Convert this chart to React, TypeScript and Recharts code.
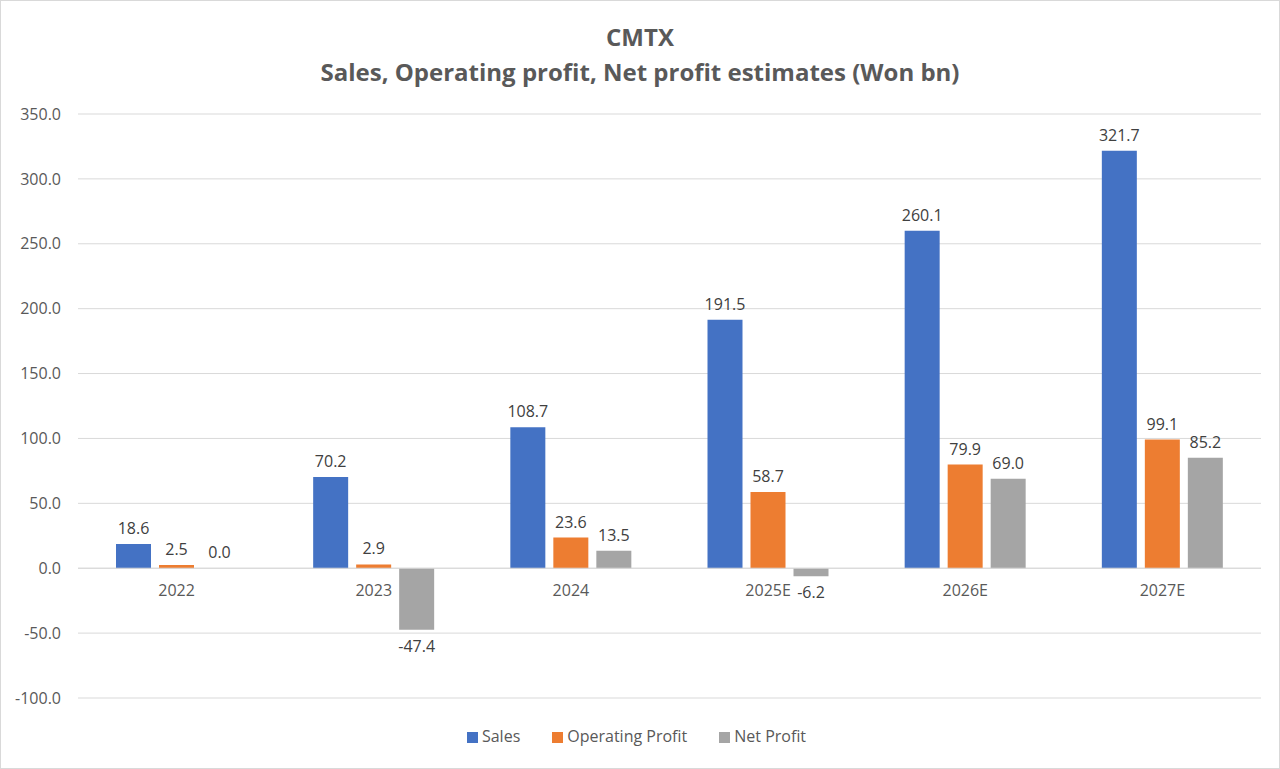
import {
  Bar,
  BarChart,
  CartesianGrid,
  LabelList,
  Legend,
  ReferenceDot,
  ReferenceLine,
  XAxis,
  YAxis,
} from "recharts";

const YEARS = ["2022", "2023", "2024", "2025E", "2026E", "2027E"];
const SALES = [18.6, 70.2, 108.7, 191.5, 260.1, 321.7];
const OP_PROFIT = [2.5, 2.9, 23.6, 58.7, 79.9, 99.1];
const NET_PROFIT = [0.0, -47.4, 13.5, -6.2, 69.0, 85.2];
const Y_TICKS = [-100, -50, 0, 50, 100, 150, 200, 250, 300, 350];
const SERIES_ORDER = ["Sales", "Operating Profit", "Net Profit"];

const SALES_COLOR = "#4472C4";
const OP_COLOR = "#ED7D31";
const NET_COLOR = "#A5A5A5";
const TEXT_COLOR = "#595959";
const GRID_COLOR = "#D9D9D9";
const FONT = "'Open Sans', 'Noto Sans', sans-serif";

const data = YEARS.map((year, i) => ({
  year,
  sales: SALES[i],
  op: OP_PROFIT[i],
  net: NET_PROFIT[i],
}));

// value label above positive bars, below negative ones
function ValueLabel(props: any) {
  const { x, y, width, height, value } = props;
  const top = Math.min(y, y + height);
  const bottom = Math.max(y, y + height);
  const neg = value < 0;
  return (
    <text
      x={x + width / 2}
      y={neg ? bottom + 22 : top - 10}
      textAnchor="middle"
      fill="#404040"
      fontSize={16}
      fontFamily={FONT}
    >
      {Number(value).toFixed(1)}
    </text>
  );
}

export default function App() {
  return (
    <div
      style={{
        position: "absolute",
        left: 0,
        top: 0,
        width: 1278,
        height: 767,
        border: "1px solid #D9D9D9",
        background: "#fff",
        fontFamily: FONT,
      }}
    >
      <div
        style={{
          position: "absolute",
          top: 18,
          width: "100%",
          textAlign: "center",
          color: TEXT_COLOR,
          fontWeight: 700,
          fontSize: 24,
          lineHeight: "35px",
        }}
      >
        <div>CMTX</div>
        <div>Sales, Operating profit, Net profit estimates (Won bn)</div>
      </div>
      <div style={{ position: "absolute", left: 0, top: 0 }}>
        <BarChart
          width={1278}
          height={767}
          data={data}
          margin={{ top: 113, right: 18, left: 3, bottom: 46 }}
          barSize={35}
          barGap={8}
        >
          <CartesianGrid stroke={GRID_COLOR} vertical={false} />
          <XAxis dataKey="year" hide />
          <YAxis
            domain={[-100, 350]}
            ticks={Y_TICKS}
            width={74}
            axisLine={false}
            tickLine={false}
            tickMargin={11}
            tick={{ fill: TEXT_COLOR, fontSize: 16, fontFamily: FONT }}
            tickFormatter={(v: number) => v.toFixed(1)}
          />
          <ReferenceLine y={0} stroke={GRID_COLOR} />
          <Legend
            verticalAlign="bottom"
            align="center"
            iconType="square"
            iconSize={11}
            height={24}
            itemSorter={(item: any) => SERIES_ORDER.indexOf(item.value)}
            wrapperStyle={{ fontSize: 16, fontFamily: FONT, top: 724, paddingLeft: 20 }}
            formatter={(v: string) => (
              <span style={{ color: TEXT_COLOR, marginRight: 22 }}>{v}</span>
            )}
          />
          <Bar dataKey="sales" name="Sales" fill={SALES_COLOR} isAnimationActive={false}>
            <LabelList dataKey="sales" content={ValueLabel} />
          </Bar>
          <Bar dataKey="op" name="Operating Profit" fill={OP_COLOR} isAnimationActive={false}>
            <LabelList dataKey="op" content={ValueLabel} />
          </Bar>
          <Bar
            dataKey="net"
            name="Net Profit"
            fill={NET_COLOR}
            minPointSize={0.01}
            isAnimationActive={false}
          >
            <LabelList dataKey="net" content={ValueLabel} />
          </Bar>
          {YEARS.map((y) => (
            <ReferenceDot
              key={y}
              x={y}
              y={0}
              r={0}
              fill="none"
              stroke="none"
              label={{
                value: y,
                position: "bottom",
                offset: 16,
                fill: TEXT_COLOR,
                fontSize: 16,
                fontFamily: FONT,
              }}
            />
          ))}
        </BarChart>
      </div>
    </div>
  );
}
